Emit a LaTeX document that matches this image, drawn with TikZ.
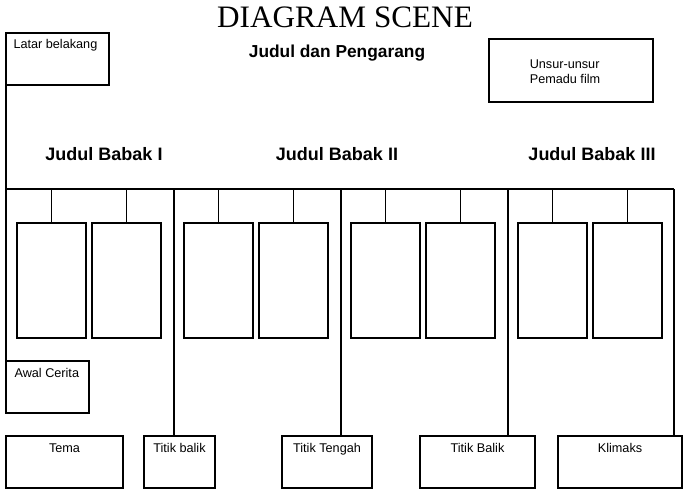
\documentclass[tikz,border=0pt]{standalone}
\usepackage{fontspec}
\setmainfont{Liberation Sans}
\newfontfamily\serifft{Liberation Serif}
\begin{document}
\begin{tikzpicture}[x=0.75pt,y=-0.75pt,line width=0.8pt,
  bx/.style={draw},
  lbl/.style={font=\fontsize{9.5}{11}\selectfont,inner sep=0pt},
  hd/.style={font=\bfseries\fontsize{13.5}{15}\selectfont,inner sep=0pt}]
\useasboundingbox[fill=white] (0,0) rectangle (689,498);
\node[font=\serifft\fontsize{23.4}{26}\selectfont,inner sep=0pt] (title) at (345,17) {DIAGRAM SCENE};
\node[hd,font=\bfseries\fontsize{13}{15}\selectfont] (jp) at (337,53) {Judul dan Pengarang};
\node[hd] (b1) at (104,154) {Judul Babak I};
\node[hd] (b2) at (337,154) {Judul Babak II};
\node[hd] (b3) at (592,154) {Judul Babak III};
\draw (6,33) rectangle (109,85);
\node[lbl,anchor=north west] (latar) at (13,39) {Latar belakang};
\draw (489,39) rectangle (653,102);
\node[lbl,align=left] (unsur) at (565,72) {Unsur-unsur\\Pemadu film};
% spine
\coordinate (h0) at (6,189); \coordinate (h1) at (674,189);
\draw (6,75) -- (6,370);
\draw (h0) -- (h1);
\foreach \x in {174,341,508,674} \draw (\x,189) -- (\x,436);
\foreach \a/\b in {17/86,92/161,184/253,259/328,351/420,426/495,518/587,593/662}{
  \draw (\a,223) rectangle (\b,338);
  \draw ({(\a+\b)/2},189) -- ({(\a+\b)/2},223);}
\draw (6,361) rectangle (89,413);
\node[lbl,anchor=north west] (awal) at (14,368) {Awal Cerita};
\foreach \a/\b/\t/\n in {6/123/Tema/tema,144/215/Titik balik/tb1,282/372/Titik Tengah/tt,420/535/Titik Balik/tb2,558/682/Klimaks/kl}{
  \draw (\a,436) rectangle (\b,488);
  \node[lbl,anchor=north] (\n) at ({(\a+\b)/2},443) {\t};}
\end{tikzpicture}
\end{document}
